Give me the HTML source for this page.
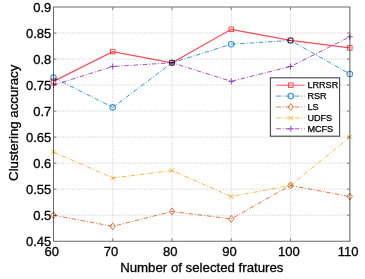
<!DOCTYPE html>
<html><head><meta charset="utf-8"><title>chart</title><style>html,body{margin:0;padding:0;background:#fff}svg{display:block}.m *{mix-blend-mode:multiply}</style></head><body>
<svg width="365" height="279" viewBox="0 0 365 279" font-family="Liberation Sans, Arial, sans-serif">
<rect width="365" height="279" fill="#fff"/>
<path d="M54 215.18 H349.8 M54 189.16 H349.8 M54 163.13 H349.8 M54 137.11 H349.8 M54 111.09 H349.8 M54 85.07 H349.8 M54 59.04 H349.8 M54 33.02 H349.8 M112.76 8 V241.2 M172.02 8 V241.2 M231.28 8 V241.2 M290.54 8 V241.2" stroke="#d0d0d0" stroke-width="1" stroke-dasharray="1.1 1.15" fill="none"/>
<path d="M349.85 7.0 V241.2" fill="none" stroke="#8a8a8a" stroke-width="1.4"/>
<path d="M53.5 7.0 V241.2 M53.0 7.0 H350.40000000000003 M53.0 241.25 H350.40000000000003" fill="none" stroke="#6a6a6a" stroke-width="1"/>
<path d="M53.5 215.18 h2.8 M349.8 215.18 h-2.8 M53.5 189.16 h2.8 M349.8 189.16 h-2.8 M53.5 163.13 h2.8 M349.8 163.13 h-2.8 M53.5 137.11 h2.8 M349.8 137.11 h-2.8 M53.5 111.09 h2.8 M349.8 111.09 h-2.8 M53.5 85.07 h2.8 M349.8 85.07 h-2.8 M53.5 59.04 h2.8 M349.8 59.04 h-2.8 M53.5 33.02 h2.8 M349.8 33.02 h-2.8 M112.76 241.2 v-2.8 M112.76 7.0 v2.8 M172.02 241.2 v-2.8 M172.02 7.0 v2.8 M231.28 241.2 v-2.8 M231.28 7.0 v2.8 M290.54 241.2 v-2.8 M290.54 7.0 v2.8" stroke="#7a7a7a" stroke-width="1" fill="none"/>
<g class="m">
<polyline points="53.50,81.35 112.76,51.61 172.02,62.76 231.28,29.30 290.54,40.46 349.80,47.89" fill="none" stroke="#ff4c55" stroke-width="1.2"/>
<rect x="51.25" y="79.10" width="4.5" height="4.5" fill="none" stroke="#ff4c55" stroke-width="1"/>
<rect x="110.51" y="49.36" width="4.5" height="4.5" fill="none" stroke="#ff4c55" stroke-width="1"/>
<rect x="169.77" y="60.51" width="4.5" height="4.5" fill="none" stroke="#ff4c55" stroke-width="1"/>
<rect x="229.03" y="27.05" width="4.5" height="4.5" fill="none" stroke="#ff4c55" stroke-width="1"/>
<rect x="288.29" y="38.21" width="4.5" height="4.5" fill="none" stroke="#ff4c55" stroke-width="1"/>
<rect x="347.55" y="45.64" width="4.5" height="4.5" fill="none" stroke="#ff4c55" stroke-width="1"/>
<polyline points="53.50,77.63 112.76,107.37 172.02,62.76 231.28,44.17 290.54,40.46 349.80,73.91" fill="none" stroke="#3a96d8" stroke-width="1.0" stroke-dasharray="4.6 1.8 1 1.8"/>
<circle cx="53.50" cy="77.63" r="2.75" fill="none" stroke="#3a96d8" stroke-width="1.05"/>
<circle cx="112.76" cy="107.37" r="2.75" fill="none" stroke="#3a96d8" stroke-width="1.05"/>
<circle cx="172.02" cy="62.76" r="2.75" fill="none" stroke="#3a96d8" stroke-width="1.05"/>
<circle cx="231.28" cy="44.17" r="2.75" fill="none" stroke="#3a96d8" stroke-width="1.05"/>
<circle cx="290.54" cy="40.46" r="2.75" fill="none" stroke="#3a96d8" stroke-width="1.05"/>
<circle cx="349.80" cy="73.91" r="2.75" fill="none" stroke="#3a96d8" stroke-width="1.05"/>
<polyline points="53.50,215.18 112.76,226.33 172.02,211.46 231.28,218.90 290.54,185.44 349.80,196.59" fill="none" stroke="#e57642" stroke-width="1.0" stroke-dasharray="4.6 1.8 1 1.8"/>
<path d="M53.50 211.73 L56.15 215.18 L53.50 218.63 L50.85 215.18 Z" fill="none" stroke="#e57642" stroke-width="1"/>
<path d="M112.76 222.88 L115.41 226.33 L112.76 229.78 L110.11 226.33 Z" fill="none" stroke="#e57642" stroke-width="1"/>
<path d="M172.02 208.01 L174.67 211.46 L172.02 214.91 L169.37 211.46 Z" fill="none" stroke="#e57642" stroke-width="1"/>
<path d="M231.28 215.45 L233.93 218.90 L231.28 222.35 L228.63 218.90 Z" fill="none" stroke="#e57642" stroke-width="1"/>
<path d="M290.54 181.99 L293.19 185.44 L290.54 188.89 L287.89 185.44 Z" fill="none" stroke="#e57642" stroke-width="1"/>
<path d="M349.80 193.14 L352.45 196.59 L349.80 200.04 L347.15 196.59 Z" fill="none" stroke="#e57642" stroke-width="1"/>
<polyline points="53.50,151.98 112.76,178.00 172.02,170.57 231.28,196.59 290.54,185.44 349.80,137.11" fill="none" stroke="#f3bd44" stroke-width="1.0" stroke-dasharray="4.6 1.8 1 1.8"/>
<path d="M51.10 149.58 L55.90 154.38 M51.10 154.38 L55.90 149.58" fill="none" stroke="#f3bd44" stroke-width="1"/>
<path d="M110.36 175.60 L115.16 180.40 M110.36 180.40 L115.16 175.60" fill="none" stroke="#f3bd44" stroke-width="1"/>
<path d="M169.62 168.17 L174.42 172.97 M169.62 172.97 L174.42 168.17" fill="none" stroke="#f3bd44" stroke-width="1"/>
<path d="M228.88 194.19 L233.68 198.99 M228.88 198.99 L233.68 194.19" fill="none" stroke="#f3bd44" stroke-width="1"/>
<path d="M288.14 183.04 L292.94 187.84 M288.14 187.84 L292.94 183.04" fill="none" stroke="#f3bd44" stroke-width="1"/>
<path d="M347.40 134.71 L352.20 139.51 M347.40 139.51 L352.20 134.71" fill="none" stroke="#f3bd44" stroke-width="1"/>
<polyline points="53.50,85.07 112.76,66.48 172.02,62.76 231.28,81.35 290.54,66.48 349.80,36.74" fill="none" stroke="#a04fc0" stroke-width="1.0" stroke-dasharray="4.6 1.8 1 1.8"/>
<path d="M50.50 85.07 L56.50 85.07 M53.50 82.07 L53.50 88.07" fill="none" stroke="#a04fc0" stroke-width="1"/>
<path d="M109.76 66.48 L115.76 66.48 M112.76 63.48 L112.76 69.48" fill="none" stroke="#a04fc0" stroke-width="1"/>
<path d="M169.02 62.76 L175.02 62.76 M172.02 59.76 L172.02 65.76" fill="none" stroke="#a04fc0" stroke-width="1"/>
<path d="M228.28 81.35 L234.28 81.35 M231.28 78.35 L231.28 84.35" fill="none" stroke="#a04fc0" stroke-width="1"/>
<path d="M287.54 66.48 L293.54 66.48 M290.54 63.48 L290.54 69.48" fill="none" stroke="#a04fc0" stroke-width="1"/>
<path d="M346.80 36.74 L352.80 36.74 M349.80 33.74 L349.80 39.74" fill="none" stroke="#a04fc0" stroke-width="1"/>
</g>
<text x="51.3" y="245.90" font-size="13" text-anchor="end" fill="#000" stroke="#000" stroke-width="0.3">0.45</text>
<text x="51.3" y="219.88" font-size="13" text-anchor="end" fill="#000" stroke="#000" stroke-width="0.3">0.5</text>
<text x="51.3" y="193.86" font-size="13" text-anchor="end" fill="#000" stroke="#000" stroke-width="0.3">0.55</text>
<text x="51.3" y="167.83" font-size="13" text-anchor="end" fill="#000" stroke="#000" stroke-width="0.3">0.6</text>
<text x="51.3" y="141.81" font-size="13" text-anchor="end" fill="#000" stroke="#000" stroke-width="0.3">0.65</text>
<text x="51.3" y="115.79" font-size="13" text-anchor="end" fill="#000" stroke="#000" stroke-width="0.3">0.7</text>
<text x="51.3" y="89.77" font-size="13" text-anchor="end" fill="#000" stroke="#000" stroke-width="0.3">0.75</text>
<text x="51.3" y="63.74" font-size="13" text-anchor="end" fill="#000" stroke="#000" stroke-width="0.3">0.8</text>
<text x="51.3" y="37.72" font-size="13" text-anchor="end" fill="#000" stroke="#000" stroke-width="0.3">0.85</text>
<text x="51.3" y="11.70" font-size="13" text-anchor="end" fill="#000" stroke="#000" stroke-width="0.3">0.9</text>
<text x="51.80" y="256.2" font-size="13" text-anchor="middle" fill="#000" stroke="#000" stroke-width="0.3">60</text>
<text x="111.06" y="256.2" font-size="13" text-anchor="middle" fill="#000" stroke="#000" stroke-width="0.3">70</text>
<text x="170.32" y="256.2" font-size="13" text-anchor="middle" fill="#000" stroke="#000" stroke-width="0.3">80</text>
<text x="229.58" y="256.2" font-size="13" text-anchor="middle" fill="#000" stroke="#000" stroke-width="0.3">90</text>
<text x="288.84" y="256.2" font-size="13" text-anchor="middle" fill="#000" stroke="#000" stroke-width="0.3">100</text>
<text x="348.10" y="256.2" font-size="13" text-anchor="middle" fill="#000" stroke="#000" stroke-width="0.3">110</text>
<text x="201.8" y="272" font-size="13.24" text-anchor="middle" fill="#000" stroke="#000" stroke-width="0.3">Number of selected fratures</text>
<text transform="translate(17.8 122.8) rotate(-90)" font-size="13.24" text-anchor="middle" fill="#000" stroke="#000" stroke-width="0.3">Clustering accuracy</text>
<rect x="270.4" y="77.8" width="69.20000000000005" height="58.39999999999999" fill="#fff" stroke="#444" stroke-width="1.1"/>
<path d="M276.3 85.20 H304.7" stroke="#ff4c55" stroke-width="1.0" fill="none"/>
<rect x="288.55" y="82.95" width="4.5" height="4.5" fill="none" stroke="#ff4c55" stroke-width="1"/>
<text x="307.4" y="88.05" font-size="9.1" fill="#000" stroke="#000" stroke-width="0.25">LRRSR</text>
<path d="M276.3 96.10 H304.7" stroke="#3a96d8" stroke-width="1.0" fill="none" stroke-dasharray="4.6 1.8 1 1.8"/>
<circle cx="290.80" cy="96.10" r="2.75" fill="none" stroke="#3a96d8" stroke-width="1.05"/>
<text x="307.4" y="98.95" font-size="9.1" fill="#000" stroke="#000" stroke-width="0.25">RSR</text>
<path d="M276.3 107.00 H304.7" stroke="#e57642" stroke-width="1.0" fill="none" stroke-dasharray="4.6 1.8 1 1.8"/>
<path d="M290.80 103.55 L293.45 107.00 L290.80 110.45 L288.15 107.00 Z" fill="none" stroke="#e57642" stroke-width="1"/>
<text x="307.4" y="109.85" font-size="9.1" fill="#000" stroke="#000" stroke-width="0.25">LS</text>
<path d="M276.3 117.90 H304.7" stroke="#f3bd44" stroke-width="1.0" fill="none" stroke-dasharray="4.6 1.8 1 1.8"/>
<path d="M288.40 115.50 L293.20 120.30 M288.40 120.30 L293.20 115.50" fill="none" stroke="#f3bd44" stroke-width="1"/>
<text x="307.4" y="120.75" font-size="9.1" fill="#000" stroke="#000" stroke-width="0.25">UDFS</text>
<path d="M276.3 128.80 H304.7" stroke="#a04fc0" stroke-width="1.0" fill="none" stroke-dasharray="4.6 1.8 1 1.8"/>
<path d="M287.80 128.80 L293.80 128.80 M290.80 125.80 L290.80 131.80" fill="none" stroke="#a04fc0" stroke-width="1"/>
<text x="307.4" y="131.65" font-size="9.1" fill="#000" stroke="#000" stroke-width="0.25">MCFS</text>
</svg>
</body></html>
